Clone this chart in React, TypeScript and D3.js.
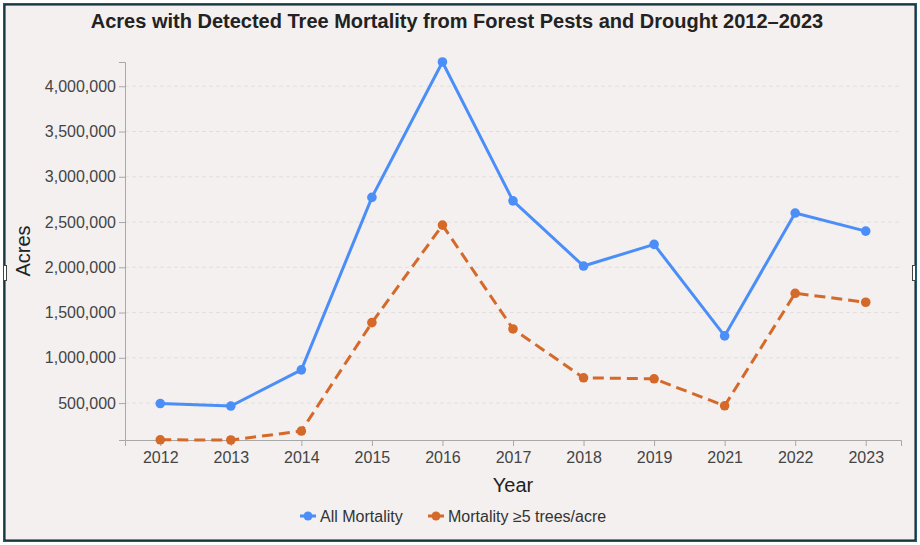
import React, { useRef, useEffect } from "react";
import * as d3 from "d3";

const years = ["2012", "2013", "2014", "2015", "2016", "2017", "2018", "2019", "2021", "2022", "2023"];
const allMortality = [495000, 467000, 867000, 2772000, 4268000, 2734000, 2014000, 2253000, 1242000, 2599000, 2400000];
const severeMortality = [94000, 92000, 191000, 1389000, 2466000, 1319000, 779000, 768000, 470000, 1713000, 1614000];
const yTicks = [500000, 1000000, 1500000, 2000000, 2500000, 3000000, 3500000, 4000000];

const series = [
  { label: "All Mortality", values: allMortality, color: "#4b8ef7", dash: "none" },
  { label: "Mortality ≥5 trees/acre", values: severeMortality, color: "#d5692a", dash: "11 6" },
];

const W = 920;
const H = 545;

const App: React.FC = () => {
  const ref = useRef<SVGSVGElement | null>(null);

  useEffect(() => {
    const margin = { top: 62, right: 19, bottom: 105, left: 125 };
    const w = W - margin.left - margin.right;
    const h = H - margin.top - margin.bottom;
    const font = "Arial, 'Liberation Sans', sans-serif";

    const root = d3.select(ref.current);
    root.selectAll("*").remove();

    // Background and frame
    root.append("rect").attr("width", W).attr("height", H).attr("fill", "#ffffff");
    root
      .append("rect")
      .attr("x", 4)
      .attr("y", 4)
      .attr("width", 912)
      .attr("height", 537)
      .attr("fill", "#f3f0ef")
      .attr("stroke", "#1d5d70")
      .attr("stroke-width", 2);
    root
      .append("rect")
      .attr("x", 5)
      .attr("y", 5)
      .attr("width", 910)
      .attr("height", 535)
      .attr("fill", "none")
      .attr("stroke", "#111")
      .attr("stroke-width", 1);

    // Side handles
    [3.5, 912.5].forEach((hx) => {
      root
        .append("rect")
        .attr("x", hx)
        .attr("y", 265.5)
        .attr("width", 3)
        .attr("height", 15)
        .attr("fill", "#fff")
        .attr("stroke", "#444")
        .attr("stroke-width", 1);
    });

    // Title
    root
      .append("text")
      .attr("x", 457)
      .attr("y", 28)
      .attr("text-anchor", "middle")
      .attr("font-family", font)
      .attr("font-size", 20)
      .attr("font-weight", "bold")
      .attr("fill", "#222")
      .text("Acres with Detected Tree Mortality from Forest Pests and Drought 2012–2023");

    const svg = root.append("g").attr("transform", `translate(${margin.left},${margin.top})`);

    const x = d3.scalePoint<string>().domain(years).range([0, w]).padding(0.5);
    const all = [...allMortality, ...severeMortality];
    const y = d3
      .scaleLinear()
      .domain([d3.min(all) ?? 0, d3.max(all) ?? 1])
      .range([h, 0]);

    // Grid
    svg
      .append("g")
      .selectAll("line")
      .data(yTicks)
      .enter()
      .append("line")
      .attr("x1", 0)
      .attr("x2", w)
      .attr("y1", (d) => y(d))
      .attr("y2", (d) => y(d))
      .attr("stroke", "#e2dedd")
      .attr("stroke-dasharray", "4 3");

    // Axes
    const xAxis = svg
      .append("g")
      .attr("transform", `translate(0,${h})`)
      .call(d3.axisBottom(x).tickSizeOuter(0).tickSize(6).tickPadding(6) as any);
    const yAxis = svg
      .append("g")
      .call(
        d3
          .axisLeft(y)
          .tickValues(yTicks)
          .tickFormat(d3.format(","))
          .tickSizeOuter(0)
          .tickSize(6)
          .tickPadding(3) as any,
      );
    [xAxis, yAxis].forEach((g) => {
      g.selectAll("path,line").attr("stroke", "#a8a8a8");
      g.selectAll("text")
        .attr("font-family", font)
        .attr("font-size", 16)
        .attr("fill", "#444");
    });

    // Axis titles
    svg
      .append("text")
      .attr("x", w / 2)
      .attr("y", h + 52)
      .attr("text-anchor", "middle")
      .attr("font-family", font)
      .attr("font-size", 20)
      .attr("fill", "#222")
      .text("Year");
    svg
      .append("text")
      .attr("transform", "rotate(-90)")
      .attr("x", -h / 2)
      .attr("y", -margin.left + 30)
      .attr("text-anchor", "middle")
      .attr("font-family", font)
      .attr("font-size", 20)
      .attr("fill", "#222")
      .text("Acres");

    // Lines and points
    series.forEach((s) => {
      const line = d3
        .line<number>()
        .x((_, i) => x(years[i]) as number)
        .y((d) => y(d));
      svg
        .append("path")
        .datum(s.values)
        .attr("fill", "none")
        .attr("stroke", s.color)
        .attr("stroke-width", 3)
        .attr("stroke-dasharray", s.dash)
        .attr("d", line);
      svg
        .append("g")
        .selectAll("circle")
        .data(s.values)
        .enter()
        .append("circle")
        .attr("cx", (_, i) => x(years[i]) as number)
        .attr("cy", (d) => y(d))
        .attr("r", 4.8)
        .attr("fill", s.color);
    });

    // Legend
    const legendX = [300, 428];
    series.forEach((s, i) => {
      const g = root.append("g").attr("transform", `translate(${legendX[i]},516)`);
      g.append("line")
        .attr("x1", 0)
        .attr("x2", 16)
        .attr("stroke", s.color)
        .attr("stroke-width", 3);
      g.append("circle").attr("cx", 8).attr("r", 4.5).attr("fill", s.color);
      g.append("text")
        .attr("x", 20)
        .attr("y", 6)
        .attr("font-family", font)
        .attr("font-size", 16)
        .attr("fill", "#333")
        .text(s.label);
    });
  }, []);

  return (
    <svg
      ref={ref}
      width={W}
      height={H}
      style={{ position: "absolute", left: 0, top: 0, display: "block" }}
    />
  );
};

export default App;
